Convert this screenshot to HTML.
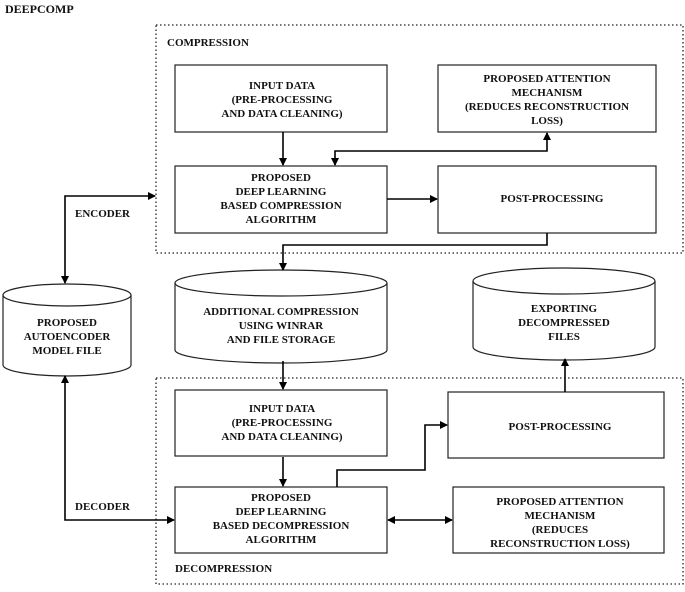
<!DOCTYPE html>
<html><head><meta charset="utf-8"><style>
body{margin:0;background:#fff;}
svg text{font-family:"Liberation Serif",serif;font-weight:bold;font-size:11px;fill:#111;}
</style></head><body>
<svg width="685" height="587" viewBox="0 0 685 587" xmlns="http://www.w3.org/2000/svg">
<defs>
<marker id="a" markerWidth="8" markerHeight="8" refX="7" refY="4" orient="auto-start-reverse" markerUnits="userSpaceOnUse">
<path d="M0,0 L8,4 L0,8 z" fill="#000"/></marker>
</defs>
<text x="5" y="13" style="font-size:12px">DEEPCOMP</text>
<rect x="156" y="25" width="527" height="228" fill="none" stroke="#222" stroke-width="1.3" stroke-dasharray="1.5,2.5"/>
<rect x="156" y="378" width="527" height="206" fill="none" stroke="#222" stroke-width="1.3" stroke-dasharray="1.5,2.5"/>
<text x="167" y="46">COMPRESSION</text>
<text x="175" y="572">DECOMPRESSION</text>
<text x="75" y="217">ENCODER</text>
<text x="75" y="510">DECODER</text>
<g fill="#fff" stroke="#222" stroke-width="1.2">
<rect x="175" y="65" width="212" height="67"/>
<rect x="438" y="65" width="218" height="67"/>
<rect x="175" y="166" width="212" height="67"/>
<rect x="438" y="166" width="218" height="67"/>
<rect x="175" y="390" width="212" height="66"/>
<rect x="448" y="392" width="216" height="66"/>
<rect x="175" y="487" width="212" height="66"/>
<rect x="453" y="487" width="211" height="66"/>
<path d="M3,295 A64,11 0 0 1 131,295 V365 A64,11 0 0 1 3,365 Z"/>
<path d="M3,295 A64,11 0 0 0 131,295"/>
<path d="M175,283 A106,13 0 0 1 387,283 V350 A106,13 0 0 1 175,350 Z"/>
<path d="M175,283 A106,13 0 0 0 387,283"/>
<path d="M473,281 A91,13 0 0 1 655,281 V347 A91,13 0 0 1 473,347 Z"/>
<path d="M473,281 A91,13 0 0 0 655,281"/>
</g>
<g text-anchor="middle">
<text x="282" y="89">INPUT DATA</text><text x="282" y="103">(PRE-PROCESSING</text><text x="282" y="117">AND DATA CLEANING)</text>
<text x="547" y="82">PROPOSED ATTENTION</text><text x="547" y="96">MECHANISM</text><text x="547" y="110">(REDUCES RECONSTRUCTION</text><text x="547" y="124">LOSS)</text>
<text x="281" y="181">PROPOSED</text><text x="281" y="195">DEEP LEARNING</text><text x="281" y="209">BASED COMPRESSION</text><text x="281" y="223">ALGORITHM</text>
<text x="552" y="202">POST-PROCESSING</text>
<text x="67" y="326">PROPOSED</text><text x="67" y="340">AUTOENCODER</text><text x="67" y="354">MODEL FILE</text>
<text x="281" y="315">ADDITIONAL COMPRESSION</text><text x="281" y="329">USING WINRAR</text><text x="281" y="343">AND FILE STORAGE</text>
<text x="564" y="312">EXPORTING</text><text x="564" y="326">DECOMPRESSED</text><text x="564" y="340">FILES</text>
<text x="282" y="412">INPUT DATA</text><text x="282" y="426">(PRE-PROCESSING</text><text x="282" y="440">AND DATA CLEANING)</text>
<text x="560" y="430">POST-PROCESSING</text>
<text x="281" y="501">PROPOSED</text><text x="281" y="515">DEEP LEARNING</text><text x="281" y="529">BASED DECOMPRESSION</text><text x="281" y="543">ALGORITHM</text>
<text x="560" y="505">PROPOSED ATTENTION</text><text x="560" y="519">MECHANISM</text><text x="560" y="533">(REDUCES</text><text x="560" y="547">RECONSTRUCTION LOSS)</text>
</g>
<g fill="none" stroke="#000" stroke-width="1.6">
<path d="M283,132 V165" marker-end="url(#a)"/>
<path d="M335,165 V151 H547 V133" marker-start="url(#a)" marker-end="url(#a)"/>
<path d="M387,199 H437" marker-end="url(#a)"/>
<path d="M547,233 V245 H283 V270" marker-end="url(#a)"/>
<path d="M65,283 V196 H155" marker-start="url(#a)" marker-end="url(#a)"/>
<path d="M65,376 V520 H174" marker-start="url(#a)" marker-end="url(#a)"/>
<path d="M283,361 V389" marker-end="url(#a)"/>
<path d="M283,457 V486" marker-end="url(#a)"/>
<path d="M337,487 V470 H425 V425 H447" marker-end="url(#a)"/>
<path d="M565,392 V359" marker-end="url(#a)"/>
<path d="M388,520 H452" marker-start="url(#a)" marker-end="url(#a)"/>
</g>
</svg>
</body></html>
